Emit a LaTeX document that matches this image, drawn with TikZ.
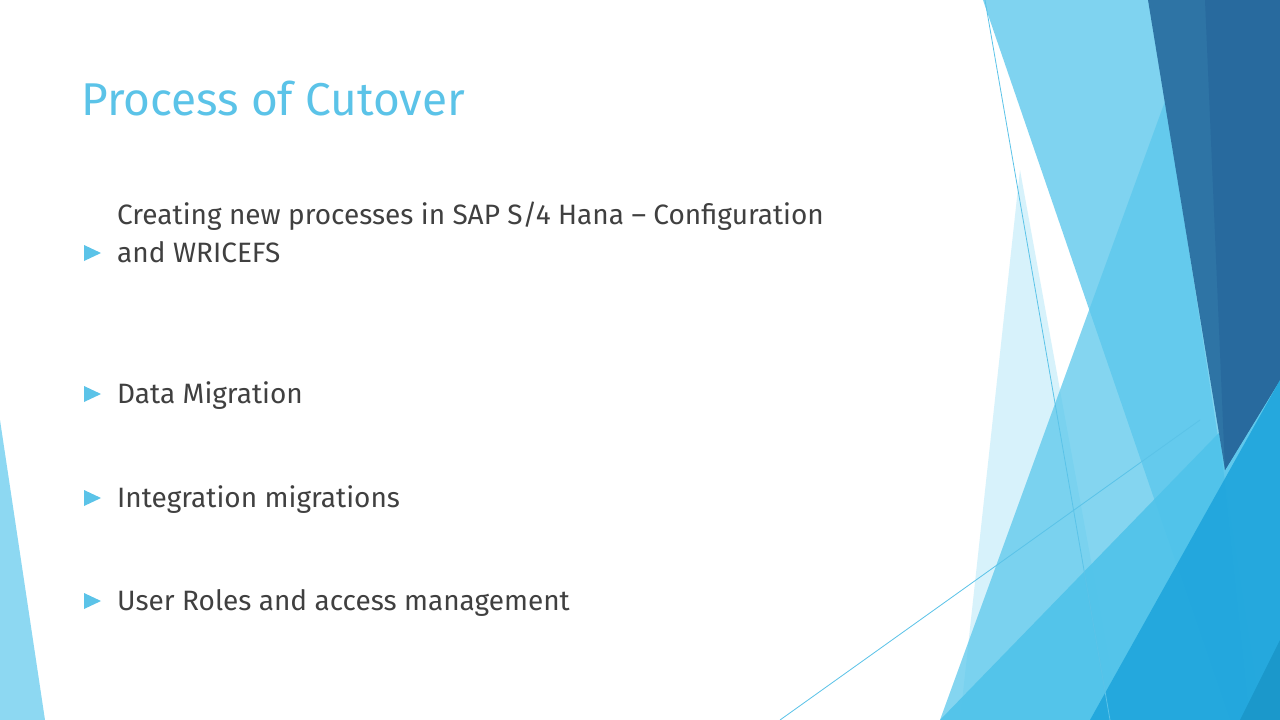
\documentclass[tikz,border=0pt]{standalone}
\usepackage{fontspec}
\setmainfont{Fira Sans}
\definecolor{accent}{HTML}{5BC3E8}
\definecolor{bodyc}{HTML}{404040}
\definecolor{cA}{HTML}{8DD8F2}
\definecolor{cB}{HTML}{7FD3F0}
\definecolor{cC}{HTML}{CDEFFA}
\definecolor{cD}{HTML}{5BC8EC}
\definecolor{cE}{HTML}{4FC3EA}
\definecolor{cF}{HTML}{2E74A5}
\definecolor{cG}{HTML}{286A9E}
\definecolor{cH}{HTML}{1FA5DC}
\definecolor{cI}{HTML}{1B98CB}
\begin{document}
\begin{tikzpicture}[x=1pt,y=-1pt,
  body/.style={anchor=base west,text=bodyc,font=\fontsize{28}{34}\selectfont,inner sep=0pt,align=left}]
\useasboundingbox (0,0) rectangle (1280,720);
\fill[white] (0,0) rectangle (1280,720);
% decoration
\fill[cA] (0,420) -- (0,720) -- (45,720) -- cycle;
\fill[cB] (983,0) -- (1150,0) -- (1262,720) -- (1230,720) -- cycle;
\fill[cC,opacity=0.8] (1020,170) -- (1120,720) -- (960,720) -- cycle;
\fill[cD,opacity=0.75] (1180,60) -- (1250,720) -- (940,720) -- cycle;
\fill[cE,opacity=0.9] (940,720) -- (1280,370) -- (1280,720) -- cycle;
\fill[cF] (1148,0) -- (1280,0) -- (1280,380) -- (1225,470) -- cycle;
\fill[cG] (1205,0) -- (1280,0) -- (1280,380) -- (1225,470) -- cycle;
\fill[cH,opacity=0.9] (1090,720) -- (1280,380) -- (1280,720) -- cycle;
\fill[cI] (1240,720) -- (1280,640) -- (1280,720) -- cycle;
\draw[accent,line width=0.8pt] (985,0) -- (1110,720);
\draw[accent,line width=0.8pt] (780,720) -- (1200,420);
% text
\node[anchor=base west,inner sep=0pt,text=accent,font=\fontsize{46}{50}\selectfont] (title) at (81,115) {Process of Cutover};
\foreach \y in {262,403,507,610}{
  \fill[accent] (84,\y-17) -- (101,\y-9) -- (84,\y-1) -- cycle;
}
\node[body] (t1) at (117,262) {Creating new processes in SAP S/4 Hana – Configuration\\[4pt]and WRICEFS};
\node[body] (t2) at (117,403) {Data Migration};
\node[body] (t3) at (117,507) {Integration migrations};
\node[body] (t4) at (117,610) {User Roles and access management};
\end{tikzpicture}
\end{document}
